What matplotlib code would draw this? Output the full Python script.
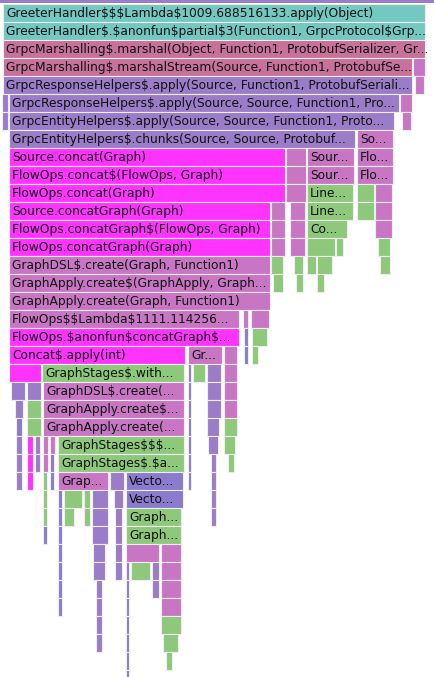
import matplotlib
matplotlib.use("Agg")
import matplotlib.pyplot as plt
from matplotlib.patches import Rectangle

# frame kinds -> colours
palette = {
    "t": "#74c8c2", "r": "#c8719b", "p": "#9b7cc8", "m": "#ff33ff",
    "o": "#c876c4", "g": "#8dc87b", "b": "#8a7bcc",
}

# one list per stack depth: (start, end, kind, label)
rows = [
    [(3, 425, "t", "GreeterHandler$$$Lambda$1009.688516133.apply(Object)")],
    [(3, 425, "t", "GreeterHandler$.$anonfun$partial$3(Function1, GrpcProtocol$Grp...")],
    [(3, 425, "r", "GrpcMarshalling$.marshal(Object, Function1, ProtobufSerializer, Gr...")],
    [(3, 412, "r", "GrpcMarshalling$.marshalStream(Source, Function1, ProtobufSe..."), (413, 425, "o", "")],
    [(3, 412, "p", "GrpcResponseHelpers$.apply(Source, Function1, ProtobufSeriali..."), (415, 424, "o", "")],
    [(2, 8, "p", ""), (9, 399, "p", "GrpcResponseHelpers$.apply(Source, Source, Function1, Pro..."), (400, 412, "o", "")],
    [(2, 8, "p", ""), (9, 394, "p", "GrpcEntityHelpers$.apply(Source, Source, Function1, Proto..."), (402, 411, "o", "")],
    [(9, 355, "p", "GrpcEntityHelpers$.chunks(Source, Source, Protobuf..."), (357, 393, "o", "So...")],
    [(9, 285, "m", "Source.concat(Graph)"), (286, 306, "o", ""), (307, 354, "o", "Sour..."), (357, 393, "o", "Flo...")],
    [(9, 285, "m", "FlowOps.concat$(FlowOps, Graph)"), (286, 306, "o", ""), (307, 354, "o", "Sour..."), (357, 393, "o", "Flo...")],
    [(9, 285, "m", "FlowOps.concat(Graph)"), (286, 306, "o", ""), (307, 353, "g", "Line..."), (357, 374, "g", ""), (375, 392, "o", "")],
    [(9, 270, "m", "Source.concatGraph(Graph)"), (271, 285, "o", ""), (290, 305, "o", ""), (307, 353, "g", "Line..."), (357, 374, "g", ""), (375, 392, "o", "")],
    [(9, 270, "m", "FlowOps.concatGraph$(FlowOps, Graph)"), (271, 285, "o", ""), (290, 305, "o", ""), (307, 347, "g", "Co..."), (375, 392, "o", "")],
    [(9, 270, "m", "FlowOps.concatGraph(Graph)"), (271, 285, "o", ""), (290, 305, "o", ""), (307, 335, "g", ""), (336, 343, "g", ""), (378, 390, "g", "")],
    [(9, 270, "o", "GraphDSL$.create(Graph, Function1)"), (271, 283, "g", ""), (294, 303, "g", ""), (307, 316, "g", ""), (317, 332, "g", ""), (380, 390, "g", "")],
    [(9, 270, "o", "GraphApply.create$(GraphApply, Graph..."), (273, 283, "g", ""), (296, 303, "g", ""), (317, 324, "g", "")],
    [(9, 270, "o", "GraphApply.create(Graph, Function1)")],
    [(9, 239, "o", "FlowOps$$Lambda$1111.114256..."), (243, 248, "o", ""), (251, 269, "o", "")],
    [(9, 239, "m", "FlowOps.$anonfun$concatGraph$..."), (244, 248, "b", ""), (252, 267, "g", "")],
    [(9, 185, "m", "Concat$.apply(int)"), (188, 222, "o", "Gr..."), (224, 237, "o", ""), (244, 248, "b", ""), (252, 258, "g", "")],
    [(9, 41, "m", ""), (42, 184, "g", "GraphStages$.with..."), (188, 191, "b", ""), (193, 205, "g", ""), (207, 221, "p", ""), (224, 237, "o", "")],
    [(11, 25, "p", ""), (27, 41, "p", ""), (43, 184, "o", "GraphDSL$.create(..."), (188, 191, "b", ""), (207, 221, "p", ""), (224, 237, "o", "")],
    [(15, 23, "p", ""), (27, 41, "g", ""), (43, 184, "o", "GraphApply.create$..."), (188, 191, "b", ""), (207, 221, "p", ""), (224, 237, "o", "")],
    [(16, 22, "b", ""), (27, 41, "g", ""), (43, 184, "o", "GraphApply.create(..."), (188, 191, "b", ""), (207, 219, "p", ""), (224, 237, "g", "")],
    [(16, 22, "p", ""), (27, 33, "m", ""), (35, 40, "p", ""), (43, 48, "o", ""), (50, 55, "o", ""), (58, 184, "g", "GraphStages$$$..."), (188, 191, "b", ""), (208, 218, "p", ""), (224, 235, "g", "")],
    [(16, 22, "p", ""), (27, 33, "m", ""), (35, 40, "p", ""), (43, 48, "o", ""), (50, 54, "b", ""), (58, 184, "g", "GraphStages$.$a..."), (188, 191, "b", ""), (211, 216, "p", ""), (228, 234, "g", "")],
    [(16, 22, "p", ""), (27, 33, "m", ""), (43, 47, "g", ""), (50, 54, "b", ""), (58, 108, "o", "Grap..."), (110, 124, "p", ""), (126, 183, "b", "Vecto..."), (188, 191, "b", ""), (211, 216, "p", "")],
    [(43, 47, "g", ""), (58, 62, "b", ""), (64, 82, "g", ""), (84, 90, "g", ""), (92, 108, "p", ""), (114, 123, "p", ""), (126, 183, "b", "Vecto..."), (211, 216, "p", "")],
    [(43, 47, "g", ""), (58, 62, "b", ""), (64, 74, "g", ""), (84, 90, "g", ""), (92, 108, "p", ""), (115, 122, "p", ""), (126, 181, "g", "Graph..."), (211, 216, "p", "")],
    [(43, 47, "b", ""), (58, 62, "b", ""), (92, 108, "p", ""), (115, 122, "p", ""), (126, 181, "g", "Graph...")],
    [(58, 62, "b", ""), (93, 105, "p", ""), (115, 122, "p", ""), (126, 159, "o", ""), (161, 181, "o", "")],
    [(58, 62, "b", ""), (93, 105, "p", ""), (115, 122, "p", ""), (126, 129, "b", ""), (131, 150, "g", ""), (152, 159, "p", ""), (161, 181, "o", "")],
    [(58, 62, "b", ""), (96, 102, "p", ""), (126, 129, "b", ""), (152, 159, "p", ""), (161, 181, "o", "")],
    [(58, 62, "b", ""), (96, 102, "p", ""), (126, 129, "b", ""), (161, 181, "o", "")],
    [(96, 102, "p", ""), (126, 129, "b", ""), (161, 181, "g", "")],
    [(96, 102, "p", ""), (126, 129, "b", ""), (163, 178, "g", "")],
    [(126, 129, "b", ""), (166, 172, "g", "")],
    [(126, 129, "b", "")],
]

W, H = 435, 677
ROW_H = 18
TOP = 4

fig = plt.figure(figsize=(W / 100, H / 100), dpi=100)
ax = fig.add_axes([0, 0, 1, 1])
ax.set_xlim(0, W)
ax.set_ylim(H, 0)
ax.axis("off")

# root frame, mostly cut off above the view
ax.add_patch(Rectangle((0, 0), W, 3, facecolor=palette["p"], edgecolor="none"))

for depth, frames in enumerate(rows):
    y = TOP + depth * ROW_H
    for x0, x1, kind, label in frames:
        ax.add_patch(Rectangle((x0, y), x1 - x0, ROW_H, facecolor=palette[kind],
                               edgecolor="#eeeeee", linewidth=0.8))
        if label:
            ax.text(x0 + 3, y + ROW_H / 2 + 0.5, label, fontsize=8.8, va="center",
                    ha="left", color="#111111", clip_on=True, parse_math=False)

fig.savefig("out.png", dpi=100)
